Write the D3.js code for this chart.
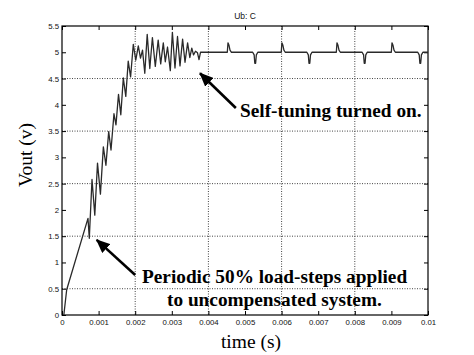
<!DOCTYPE html>
<html>
<head>
<meta charset="utf-8">
<script src="https://cdn.jsdelivr.net/npm/d3@7"></script>
<style>
  html, body { margin: 0; padding: 0; background: #fff; }
  svg { display: block; }
</style>
</head>
<body>
<svg id="chart" width="474" height="355"></svg>
<script>
// ---- data ----
const timeS = [
  0.00005, 0.000128, 0.00071, 0.000746, 0.00082, 0.000896, 0.00097, 0.00105,
  0.00113, 0.0012, 0.001276, 0.001339, 0.00142, 0.001475, 0.001544, 0.001607,
  0.001675, 0.001743, 0.001809, 0.001874, 0.001948, 0.002016, 0.002085, 0.002145,
  0.0022, 0.002262, 0.002328, 0.002399, 0.00247, 0.002549, 0.002628, 0.002697,
  0.002768, 0.002822, 0.002883, 0.002959, 0.003016, 0.003087, 0.003156, 0.003224,
  0.003295, 0.003361, 0.003432, 0.003492, 0.003546, 0.003593, 0.003648, 0.003702,
  0.003743, 0.003784,
  0.004517, 0.004535, 0.00456, 0.00459, 0.00463,
  0.00521, 0.00525, 0.005268, 0.00529, 0.00531, 0.00535,
  0.00599, 0.006008, 0.006033, 0.006063, 0.0061,
  0.00669, 0.00673, 0.006748, 0.00677, 0.00679, 0.00683,
  0.007495, 0.007513, 0.007538, 0.007568, 0.007605,
  0.0082, 0.00824, 0.008258, 0.00828, 0.0083, 0.00834,
  0.008998, 0.009016, 0.009041, 0.009071, 0.009108,
  0.00972, 0.00976, 0.009778, 0.0098, 0.00982, 0.00986,
  0.01
];
const voutV = [
  0.0, 0.48, 1.84, 1.46, 2.58, 1.90, 2.89, 2.30,
  3.20, 2.85, 3.49, 3.14, 3.83, 3.62, 4.20, 3.81,
  4.51, 4.16, 4.83, 4.53, 5.15, 4.85, 5.12, 4.89,
  5.04, 4.60, 5.34, 4.69, 5.28, 4.73, 5.23, 4.78,
  5.18, 4.82, 5.10, 4.65, 5.38, 4.70, 5.30, 4.74,
  5.25, 4.81, 5.18, 4.90, 5.08, 4.95, 5.02, 4.99,
  4.86, 5.0,
  5.0, 5.18, 5.14, 5.04, 5.0,
  5.0, 4.95, 4.79, 4.79, 4.95, 5.0,
  5.0, 5.18, 5.14, 5.04, 5.0,
  5.0, 4.95, 4.79, 4.79, 4.95, 5.0,
  5.0, 5.18, 5.14, 5.04, 5.0,
  5.0, 4.95, 4.79, 4.79, 4.95, 5.0,
  5.0, 5.18, 5.14, 5.04, 5.0,
  5.0, 4.95, 4.79, 4.79, 4.95, 5.0,
  5.0
];
const xTicks = [0, 0.001, 0.002, 0.003, 0.004, 0.005, 0.006, 0.007, 0.008, 0.009, 0.01];
const xTickLabels = ["0", "0.001", "0.002", "0.003", "0.004", "0.005", "0.006", "0.007", "0.008", "0.009", "0.01"];
const yTicks = [0, 0.5, 1, 1.5, 2, 2.5, 3, 3.5, 4, 4.5, 5, 5.5];
const yTickLabels = ["0", "0.5", "1", "1.5", "2", "2.5", "3", "3.5", "4", "4.5", "5", "5.5"];
const xGrid = [0.002, 0.004, 0.006, 0.008];
const yGrid = [0.5, 1.5, 2.5, 3.5, 4.5];
const titleText = "Ub: C";
const xLabel = "time (s)";
const yLabel = "Vout (v)";
const note1 = ["Self-tuning turned on."];
const note2 = ["Periodic 50% load-steps applied", "to uncompensated system."];

// ---- layout ----
const svg = d3.select("#chart");
const L = 62, R = 428, T = 26, B = 315;
const x = d3.scaleLinear().domain([0, 0.01]).range([L, R]);
const y = d3.scaleLinear().domain([0, 5.5]).range([B, T]);
const tickFont = "'Liberation Sans', Arial, sans-serif";
const serif = "'Liberation Serif', 'Times New Roman', serif";

// grid
const g = svg.append("g");
g.selectAll(".gx").data(xGrid).enter().append("line")
  .attr("x1", d => x(d)).attr("x2", d => x(d)).attr("y1", T).attr("y2", B)
  .attr("stroke", "#444").attr("stroke-width", 1).attr("stroke-dasharray", "1,1.5");
g.selectAll(".gy").data(yGrid).enter().append("line")
  .attr("x1", L).attr("x2", R).attr("y1", d => y(d)).attr("y2", d => y(d))
  .attr("stroke", "#444").attr("stroke-width", 1).attr("stroke-dasharray", "1,1.5");

// axes
function styleAxis(sel) {
  sel.select(".domain").remove();
  sel.selectAll("line").attr("stroke", "#000");
  sel.selectAll("text").attr("font-family", tickFont).attr("font-size", "7.8px").attr("fill", "#111");
}
svg.append("g").attr("transform", `translate(0,${B})`)
  .call(d3.axisBottom(x).tickValues(xTicks).tickSize(-4).tickPadding(4)
    .tickFormat((d, i) => xTickLabels[i]))
  .call(styleAxis);
svg.append("g").attr("transform", `translate(0,${T})`)
  .call(d3.axisTop(x).tickValues(xTicks).tickSize(-4).tickFormat(""))
  .call(styleAxis);
svg.append("g").attr("transform", `translate(${L},0)`)
  .call(d3.axisLeft(y).tickValues(yTicks).tickSize(-4).tickPadding(3)
    .tickFormat((d, i) => yTickLabels[i]))
  .call(styleAxis);
svg.append("g").attr("transform", `translate(${R},0)`)
  .call(d3.axisRight(y).tickValues(yTicks).tickSize(-4).tickFormat(""))
  .call(styleAxis);

// frame
svg.append("rect").attr("x", L).attr("y", T).attr("width", R - L).attr("height", B - T)
  .attr("fill", "none").attr("stroke", "#000").attr("stroke-width", 1.2);

// signal
const pts = timeS.map((t, i) => [t, voutV[i]]);
svg.append("path").datum(pts)
  .attr("fill", "none").attr("stroke", "#2a2a2a").attr("stroke-width", 1.3)
  .attr("stroke-linejoin", "round")
  .attr("d", d3.line().x(d => x(d[0])).y(d => y(d[1])));

// title & labels
svg.append("text").attr("x", 245).attr("y", 19).attr("text-anchor", "middle")
  .attr("font-family", tickFont).attr("font-size", "8.5px").attr("fill", "#111").text(titleText);
svg.append("text").attr("x", 251).attr("y", 348).attr("text-anchor", "middle")
  .attr("font-family", serif).attr("font-size", "19.5px").attr("fill", "#000").text(xLabel);
svg.append("text").attr("transform", "translate(31.5,155) rotate(-90)").attr("text-anchor", "middle")
  .attr("font-family", serif).attr("font-size", "19.5px").attr("fill", "#000").text(yLabel);

// arrows
const defs = svg.append("defs");
defs.append("marker").attr("id", "ah").attr("markerUnits", "userSpaceOnUse")
  .attr("viewBox", "0 0 14 12").attr("refX", 13).attr("refY", 6)
  .attr("markerWidth", 14).attr("markerHeight", 12).attr("orient", "auto")
  .append("path").attr("d", "M0,0 L14,6 L0,12 Z").attr("fill", "#000");

function arrow(t0, v0, t1, v1) {
  svg.append("line").attr("x1", x(t0)).attr("y1", y(v0)).attr("x2", x(t1)).attr("y2", y(v1))
    .attr("stroke", "#000").attr("stroke-width", 2.6).attr("marker-end", "url(#ah)");
}
arrow(0.00475, 3.94, 0.00377, 4.6);
arrow(0.002, 0.76, 0.000948, 1.43);

// annotations
svg.append("text").attr("x", 240).attr("y", 116.5)
  .attr("font-family", serif).attr("font-weight", "bold").attr("font-size", "19.3px")
  .attr("fill", "#000").text(note1[0]);
svg.append("text").attr("x", 142).attr("y", 283)
  .attr("font-family", serif).attr("font-weight", "bold").attr("font-size", "19.3px")
  .attr("fill", "#000").text(note2[0]);
svg.append("text").attr("x", 167).attr("y", 306)
  .attr("font-family", serif).attr("font-weight", "bold").attr("font-size", "19.3px")
  .attr("fill", "#000").text(note2[1]);
</script>
</body>
</html>
